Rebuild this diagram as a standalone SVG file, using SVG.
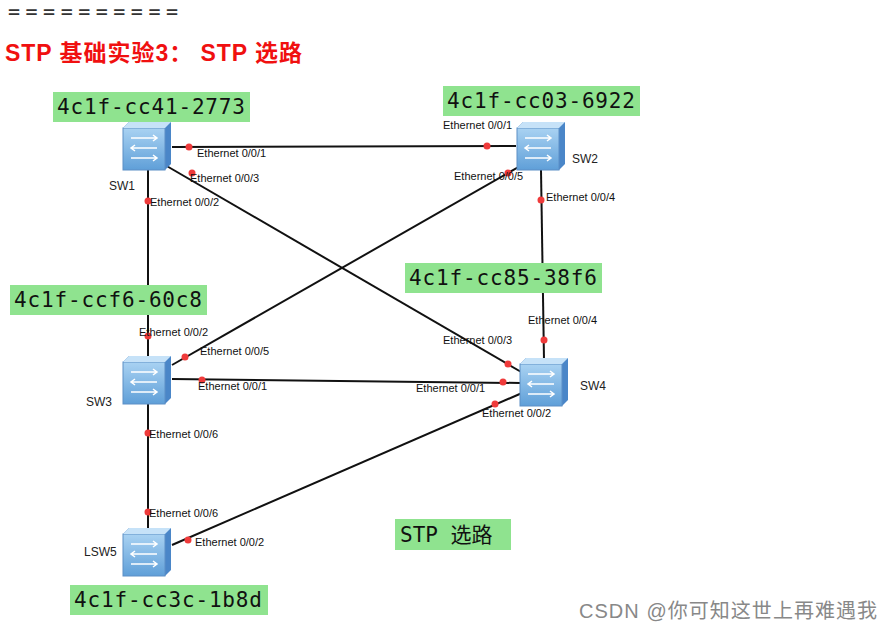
<svg xmlns="http://www.w3.org/2000/svg" width="892" height="631" viewBox="0 0 892 631">
<style>
.lbl{font-family:"Liberation Sans",Arial,sans-serif;font-size:11px;fill:#111}
.nm{font-family:"Liberation Sans",Arial,sans-serif;font-size:12px;fill:#222}
.mac{font-family:"DejaVu Sans Mono","Liberation Mono",monospace;font-size:21px;fill:#111}
.gb{fill:#8fe38f}
.ln{stroke:#111;stroke-width:2;fill:none}
.dot{fill:#ef3b3b}
</style>
<defs>
<linearGradient id="g" x1="0" y1="0" x2="0" y2="1"><stop offset="0" stop-color="#a9d2f2"/><stop offset="1" stop-color="#5f9fd8"/></linearGradient>
<g id="sw">
<path d="M-24,-18 L-18,-24 L24,-24 L24,18 L18,24 L-24,24 Z" fill="#4a86c8"/>
<rect x="-24" y="-18" width="42" height="42" fill="url(#g)" stroke="#5c8fc6"/>
<path d="M-24,-18 L-18,-24 L24,-24 L18,-18 Z" fill="#c6e2f8"/>
<g stroke="#fff" stroke-width="1.5" fill="none">
<path d="M-16,-8 H10 M6,-11 L10,-8 L6,-5"/>
<path d="M10,2 H-16 M-12,-1 L-16,2 L-12,5"/>
<path d="M-16,12 H10 M6,9 L10,12 L6,15"/>
</g>
</g>
</defs>
<rect width="892" height="631" fill="#fff"/>
<text x="8" y="18" font-family="DejaVu Sans Mono,monospace" font-size="20" fill="#333" textLength="170">==========</text>
<text x="5" y="61" font-family="Liberation Sans,'Noto Sans CJK SC',sans-serif" font-size="23" font-weight="bold" fill="#f01010" textLength="297" lengthAdjust="spacing">STP 基础实验3：  STP 选路</text>
<g id="connectors">
<line class="ln" x1="172" y1="147" x2="516" y2="146"/>
<line class="ln" x1="165" y1="165" x2="523" y2="373"/>
<line class="ln" x1="148" y1="170" x2="148" y2="357"/>
<line class="ln" x1="522" y1="165" x2="172" y2="365"/>
<line class="ln" x1="541" y1="170" x2="544" y2="360"/>
<line class="ln" x1="172" y1="379" x2="520" y2="383"/>
<line class="ln" x1="148" y1="403" x2="148" y2="530"/>
<line class="ln" x1="172" y1="545" x2="522" y2="393"/>
<g>
<circle class="dot" cx="189" cy="147" r="3.5"/><circle class="dot" cx="487" cy="146" r="3.5"/>
<circle class="dot" cx="192" cy="173" r="3.5"/><circle class="dot" cx="508" cy="364" r="3.5"/>
<circle class="dot" cx="148" cy="201" r="3.5"/><circle class="dot" cx="148" cy="336" r="3.5"/>
<circle class="dot" cx="508" cy="173" r="3.5"/><circle class="dot" cx="185" cy="357" r="3.5"/>
<circle class="dot" cx="541" cy="200" r="3.5"/><circle class="dot" cx="544" cy="340" r="3.5"/>
<circle class="dot" cx="202" cy="380" r="3.5"/><circle class="dot" cx="503" cy="382" r="3.5"/>
<circle class="dot" cx="148" cy="433" r="3.5"/><circle class="dot" cx="148" cy="512" r="3.5"/>
<circle class="dot" cx="188" cy="540" r="3.5"/><circle class="dot" cx="495" cy="404" r="3.5"/>
</g>
<text class="lbl" x="197" y="157">Ethernet 0/0/1</text>
<text class="lbl" x="443" y="129">Ethernet 0/0/1</text>
<text class="lbl" x="190" y="182">Ethernet 0/0/3</text>
<text class="lbl" x="443" y="344">Ethernet 0/0/3</text>
<text class="lbl" x="150" y="206">Ethernet 0/0/2</text>
<text class="lbl" x="139" y="336">Ethernet 0/0/2</text>
<text class="lbl" x="454" y="180">Ethernet 0/0/5</text>
<text class="lbl" x="200" y="355">Ethernet 0/0/5</text>
<text class="lbl" x="546" y="201">Ethernet 0/0/4</text>
<text class="lbl" x="528" y="324">Ethernet 0/0/4</text>
<text class="lbl" x="198" y="390">Ethernet 0/0/1</text>
<text class="lbl" x="416" y="392">Ethernet 0/0/1</text>
<text class="lbl" x="149" y="438">Ethernet 0/0/6</text>
<text class="lbl" x="149" y="517">Ethernet 0/0/6</text>
<text class="lbl" x="195" y="546">Ethernet 0/0/2</text>
<text class="lbl" x="482" y="417">Ethernet 0/0/2</text>
</g>
<g id="SW1"><use href="#sw" x="147" y="146"/><text class="nm" x="109" y="190">SW1</text>
<rect class="gb" x="53" y="92" width="197" height="30"/><text class="mac" x="57" y="114" textLength="188">4c1f-cc41-2773</text></g>
<g id="SW2"><use href="#sw" x="541" y="146"/><text class="nm" x="572" y="163">SW2</text>
<rect class="gb" x="443" y="86" width="197" height="30"/><text class="mac" x="447" y="108" textLength="188">4c1f-cc03-6922</text></g>
<g id="SW3"><use href="#sw" x="147" y="380"/><text class="nm" x="86" y="406">SW3</text>
<rect class="gb" x="10" y="285" width="197" height="30"/><text class="mac" x="14" y="307" textLength="188">4c1f-ccf6-60c8</text></g>
<g id="SW4"><use href="#sw" x="544" y="382"/><text class="nm" x="580" y="390">SW4</text>
<rect class="gb" x="405" y="263" width="197" height="30"/><text class="mac" x="409" y="285" textLength="188">4c1f-cc85-38f6</text></g>
<g id="LSW5"><use href="#sw" x="147" y="552"/><text class="nm" x="84" y="556">LSW5</text>
<rect class="gb" x="70" y="585" width="198" height="30"/><text class="mac" x="74" y="607" textLength="188">4c1f-cc3c-1b8d</text></g>
<g id="caption"><rect class="gb" x="395" y="519" width="116" height="31"/>
<text x="400" y="542" font-family="'DejaVu Sans Mono','Noto Sans CJK SC',monospace" font-size="21" fill="#111">STP 选路</text></g>
<text x="579" y="618" font-family="'Liberation Sans','Noto Sans CJK SC',sans-serif" font-size="20" fill="#888" textLength="298">CSDN @你可知这世上再难遇我</text>
</svg>
